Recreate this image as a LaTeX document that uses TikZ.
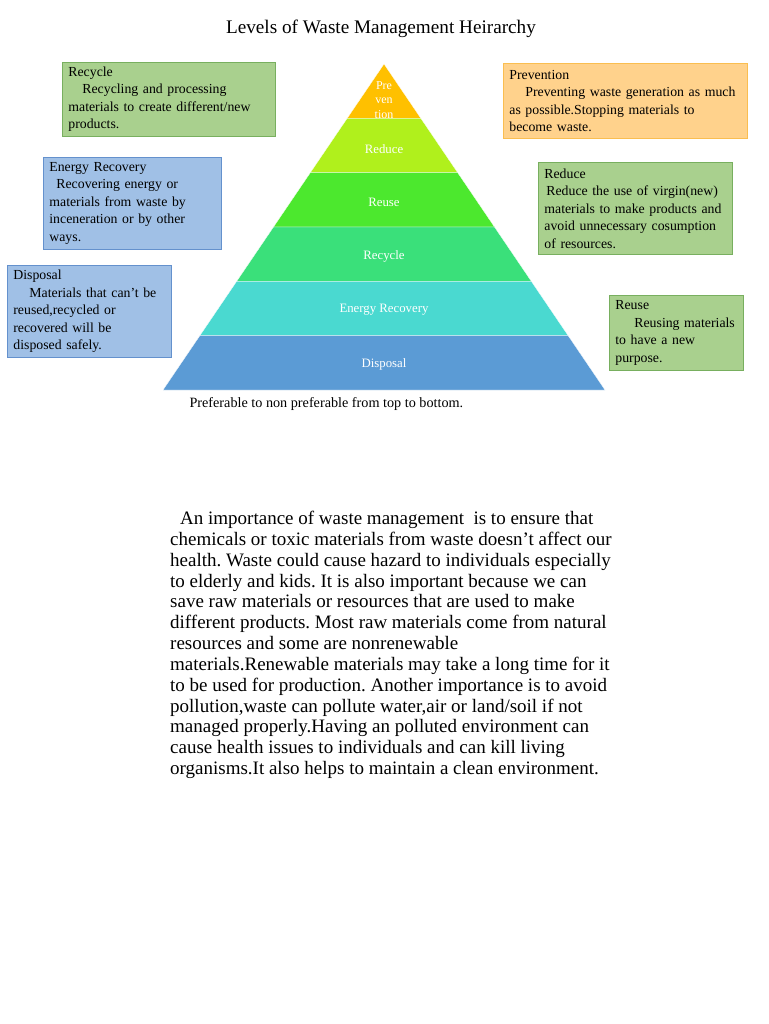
\documentclass[tikz,border=0pt]{standalone}
\usepackage{fontspec}
\setmainfont{Liberation Serif}
\frenchspacing
\definecolor{cPrev}{RGB}{255,192,0}
\definecolor{cRed}{RGB}{176,240,28}
\definecolor{cReu}{RGB}{76,232,46}
\definecolor{cRec}{RGB}{58,224,122}
\definecolor{cEne}{RGB}{74,217,208}
\definecolor{cDis}{RGB}{91,155,213}
\definecolor{gfill}{RGB}{169,208,142}
\definecolor{gline}{RGB}{120,175,95}
\definecolor{bfill}{RGB}{160,192,230}
\definecolor{bline}{RGB}{100,145,205}
\definecolor{ofill}{RGB}{255,210,140}
\definecolor{oline}{RGB}{250,190,80}
\begin{document}
\begin{tikzpicture}[x=1pt,y=-1pt,
  layer/.style={draw=white,line width=0.3pt},
  lbl/.style={text=white,font=\fontsize{12.8}{14}\selectfont,inner sep=0pt},
  infobox/.style={anchor=north west,align=left,inner xsep=6pt,inner ysep=3pt,
    font=\fontsize{13.8}{17.5}\selectfont,line width=0.8pt},
  gbox/.style={infobox,fill=gfill,draw=gline},
  bbox/.style={infobox,fill=bfill,draw=bline},
  obox/.style={infobox,fill=ofill,draw=oline}]
\useasboundingbox (0,0) rectangle (768,1024);
\fill[white] (0,0) rectangle (768,1024);

\node[font=\fontsize{19.2}{22}\selectfont] (title) at (381,29) {Levels of Waste Management Heirarchy};

% pyramid layers
\fill[cPrev,layer] (384,64) -- (420.83,118.33) -- (347.17,118.33) -- cycle;
\fill[cRed,layer] (347.17,118.33) -- (420.83,118.33) -- (457.67,172.67) -- (310.33,172.67) -- cycle;
\fill[cReu,layer] (310.33,172.67) -- (457.67,172.67) -- (494.5,227) -- (273.5,227) -- cycle;
\fill[cRec,layer] (273.5,227) -- (494.5,227) -- (531.33,281.33) -- (236.67,281.33) -- cycle;
\fill[cEne,layer] (236.67,281.33) -- (531.33,281.33) -- (568.17,335.67) -- (199.83,335.67) -- cycle;
\fill[cDis,layer] (199.83,335.67) -- (568.17,335.67) -- (605,390) -- (163,390) -- cycle;

\node[lbl,align=center,font=\fontsize{12}{14.5}\selectfont] (lprev) at (384,100) {Pre\\ven\\tion};
\node[lbl] (lred) at (384,149) {Reduce};
\node[lbl] (lreu) at (384,202) {Reuse};
\node[lbl] (lrec) at (384,256) {Recycle};
\node[lbl] (lene) at (384,310) {Energy Recovery};
\node[lbl] (ldis) at (384,364) {Disposal};

\node[font=\fontsize{14.2}{16}\selectfont,anchor=west] (cap) at (186,404) {Preferable to non preferable from top to bottom.};

% boxes left
\node[gbox,text width=201,minimum height=74,inner ysep=4.5pt] (brec) at (62,62)
 {Recycle\\\hspace*{14pt}Recycling and processing\\materials to create different/new\\products.};
\node[bbox,text width=166,minimum height=92] (bene) at (43,157)
 {Energy Recovery\\\hspace*{7pt}Recovering energy or\\materials from waste by\\inceneration or by other\\ways.};
\node[bbox,text width=152,minimum height=92] (bdis) at (7,265)
 {Disposal\\\hspace*{16pt}Materials that can’t be\\reused,recycled or\\recovered will be\\disposed safely.};

% boxes right
\node[obox,text width=232,minimum height=75,inner ysep=4pt] (bprev) at (503,63)
 {Prevention\\\hspace*{16pt}Preventing waste generation as much\\as possible.Stopping materials to\\become waste.};
\node[gbox,text width=182,minimum height=92] (bred) at (538,162)
 {Reduce\\\hspace*{2pt}Reduce the use of virgin(new)\\materials to make products and\\avoid unnecessary cosumption\\of resources.};
\node[gbox,text width=122,minimum height=75,inner ysep=4pt] (breu) at (609,295)
 {Reuse\\\hspace*{19pt}Reusing materials\\to have a new\\purpose.};

% paragraph
\node[anchor=north west,align=left,inner sep=0pt,font=\fontsize{19}{20.83}\selectfont] (para) at (170,511)
 {\hspace*{10pt}An importance of waste management \ is to ensure that\\
chemicals or toxic materials from waste doesn’t affect our\\
health. Waste could cause hazard to individuals especially\\
to elderly and kids. It is also important because we can\\
save raw materials or resources that are used to make\\
different products. Most raw materials come from natural\\
resources and some are nonrenewable\\
materials.Renewable materials may take a long time for it\\
to be used for production. Another importance is to avoid\\
pollution,waste can pollute water,air or land/soil if not\\
managed properly.Having an polluted environment can\\
cause health issues to individuals and can kill living\\
organisms.It also helps to maintain a clean environment.};
\end{tikzpicture}
\end{document}
